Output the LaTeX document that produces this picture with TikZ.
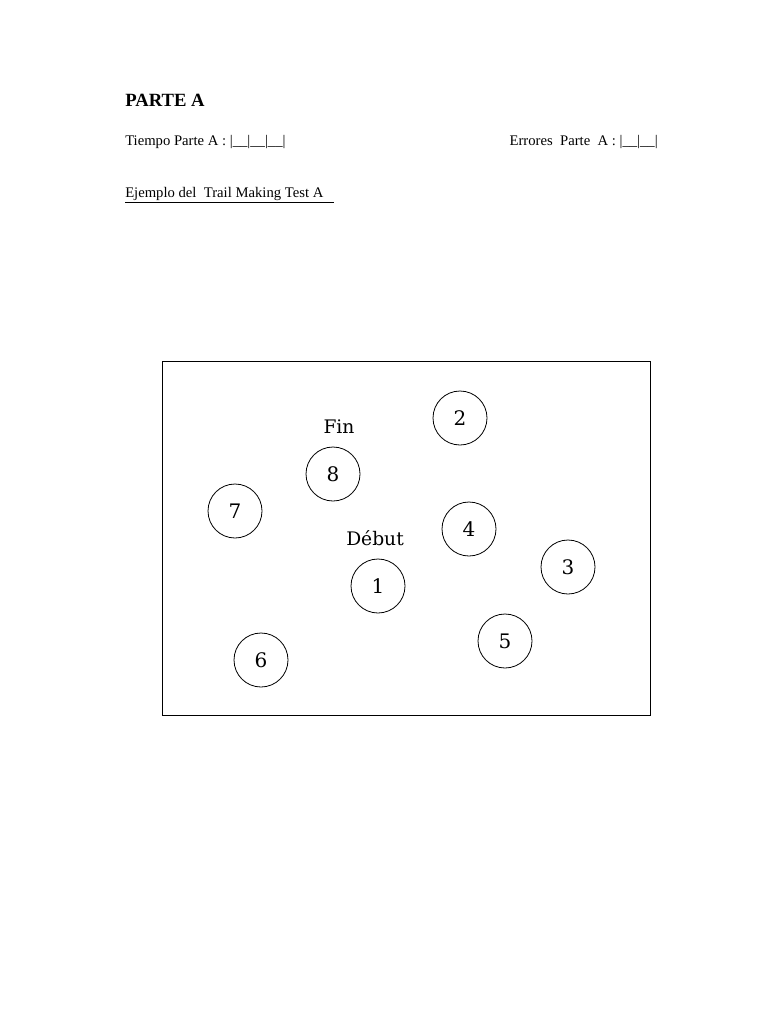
\documentclass[tikz,border=0pt]{standalone}
\usepackage{fontspec}
\setmainfont{Liberation Serif}
\newfontfamily\numfont{DejaVu Serif}
\begin{document}
\begin{tikzpicture}[x=0.75pt,y=-0.75pt,
  num/.style={circle,draw,line width=0.6pt,minimum size=54*0.75pt,inner sep=0pt,font=\numfont\fontsize{15}{17}\selectfont},
  lbl/.style={font=\numfont\fontsize{14}{16}\selectfont},
  hdr/.style={anchor=base west,inner sep=0pt,font=\fontsize{11}{13}\selectfont}]
\useasboundingbox (0,0) rectangle (768,1024);
\node[hdr,font=\bfseries\fontsize{14}{16}\selectfont] (title) at (125,107) {PARTE A};
\node[hdr] (tiempo) at (125,145) {Tiempo Parte A : |\_\_|\_\_|\_\_|};
\node[hdr,anchor=base east] (errores) at (658,145) {Errores\ \ Parte\ \ A : |\_\_|\_\_|};
\node[hdr] (ejemplo) at (125,197) {\underline{Ejemplo del\ \ Trail Making Test A\ \ \ }};
\draw[line width=0.6pt] (162,361) rectangle (650,715);
\node[num] (n2) at (460,418) {2};
\node[num] (n8) at (333,474) {8};
\node[num] (n7) at (235,511) {7};
\node[num] (n4) at (469,529) {4};
\node[num] (n3) at (568,567) {3};
\node[num] (n1) at (378,586) {1};
\node[num] (n5) at (505,641) {5};
\node[num] (n6) at (261,660) {6};
\node[lbl] (fin) at (339,427) {Fin};
\node[lbl] (debut) at (375,538) {Début};
\end{tikzpicture}
\end{document}
